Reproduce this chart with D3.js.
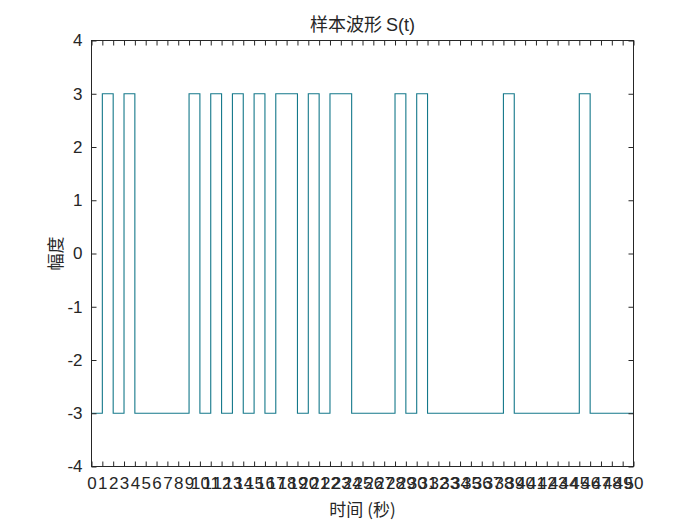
<!DOCTYPE html>
<html>
<head>
<meta charset="utf-8">
<script src="https://cdn.jsdelivr.net/npm/d3@7"></script>
<style>
  html, body { margin: 0; padding: 0; background: #fff; }
  svg { display: block; }
</style>
</head>
<body>
<svg id="chart" width="700" height="525"></svg>
<script>
// Data
const timeSteps = d3.range(0, 51); // t = 0 .. 50
const signalValues = [
  -3, 3, -3, 3, -3, -3, -3, -3, -3, 3,
  -3, 3, -3, 3, -3, 3, -3, 3, 3, -3,
  3, -3, 3, 3, -3, -3, -3, -3, 3, -3,
  3, -3, -3, -3, -3, -3, -3, -3, 3, -3,
  -3, -3, -3, -3, -3, 3, -3, -3, -3, -3,
  -3
];
const xTickValues = d3.range(0, 51);
const yTickValues = [-4, -3, -2, -1, 0, 1, 2, 3, 4];
const titleCJK = "样本波形 ";
const titleLatin = "S(t)";
const xLabelText = "时间 (秒)";
const yLabelText = "幅度";

(function () {
const svg = d3.select("#chart");
const pLeft = 91.5, pRight = 633.5, pTop = 40.5, pBottom = 466.5;
const axisColor = "#262626";
const lineColor = "#14788a";
const fontLatin = "Arial, 'Liberation Sans', Helvetica, sans-serif";
const fontCJK = "'Noto Sans CJK SC', 'Noto Sans', sans-serif";

const x = d3.scaleLinear().domain([0, 50]).range([pLeft, pRight]);
const y = d3.scaleLinear().domain([-4, 4]).range([pBottom, pTop]);

const tickLen = 5;

// Data line (stairs)
const pts = timeSteps.map((t, i) => [t, signalValues[i]]);
const line = d3.line()
  .x(d => x(d[0]))
  .y(d => y(d[1]))
  .curve(d3.curveStepAfter);
svg.append("path")
  .datum(pts)
  .attr("d", line)
  .attr("fill", "none")
  .attr("stroke", lineColor)
  .attr("stroke-width", 1.1);

const fmt = d => String(d);
const gB = svg.append("g").attr("transform", `translate(0,${pBottom})`)
  .call(d3.axisBottom(x).tickValues(xTickValues).tickSizeInner(-tickLen).tickSizeOuter(0).tickFormat(fmt));
const gT = svg.append("g").attr("transform", `translate(0,${pTop})`)
  .call(d3.axisTop(x).tickValues(xTickValues).tickSizeInner(-tickLen).tickSizeOuter(0).tickFormat(""));
const gL = svg.append("g").attr("transform", `translate(${pLeft},0)`)
  .call(d3.axisLeft(y).tickValues(yTickValues).tickSizeInner(-tickLen).tickSizeOuter(0).tickPadding(9).tickFormat(fmt));
const gR = svg.append("g").attr("transform", `translate(${pRight},0)`)
  .call(d3.axisRight(y).tickValues(yTickValues).tickSizeInner(-tickLen).tickSizeOuter(0).tickFormat(""));

[gB, gT, gL, gR].forEach(g => {
  g.select(".domain").remove();
  g.selectAll(".tick line").attr("stroke", axisColor).attr("stroke-width", 1);
  g.selectAll("text").attr("fill", axisColor)
    .style("font-family", fontLatin).style("font-size", "17px");
});
gB.selectAll(".tick text").attr("dy", "0.71em").attr("y", 10);

svg.append("rect")
  .attr("x", pLeft).attr("y", pTop)
  .attr("width", pRight - pLeft).attr("height", pBottom - pTop)
  .attr("fill", "none").attr("stroke", axisColor).attr("stroke-width", 1);

const title = svg.append("text")
  .attr("x", (pLeft + pRight) / 2).attr("y", 31)
  .attr("text-anchor", "middle")
  .attr("fill", axisColor)
  .style("font-size", "18px");
title.append("tspan").style("font-family", fontCJK).text(titleCJK);
title.append("tspan").style("font-family", fontLatin).text(titleLatin);

svg.append("text")
  .attr("x", (pLeft + pRight) / 2).attr("y", 516)
  .attr("text-anchor", "middle")
  .attr("fill", axisColor)
  .style("font-family", fontCJK)
  .style("font-size", "17px")
  .text(xLabelText);

svg.append("text")
  .attr("transform", `translate(62,${(pTop + pBottom) / 2}) rotate(-90)`)
  .attr("text-anchor", "middle")
  .attr("fill", axisColor)
  .style("font-family", fontCJK)
  .style("font-size", "17px")
  .text(yLabelText);
})();
</script>
</body>
</html>
